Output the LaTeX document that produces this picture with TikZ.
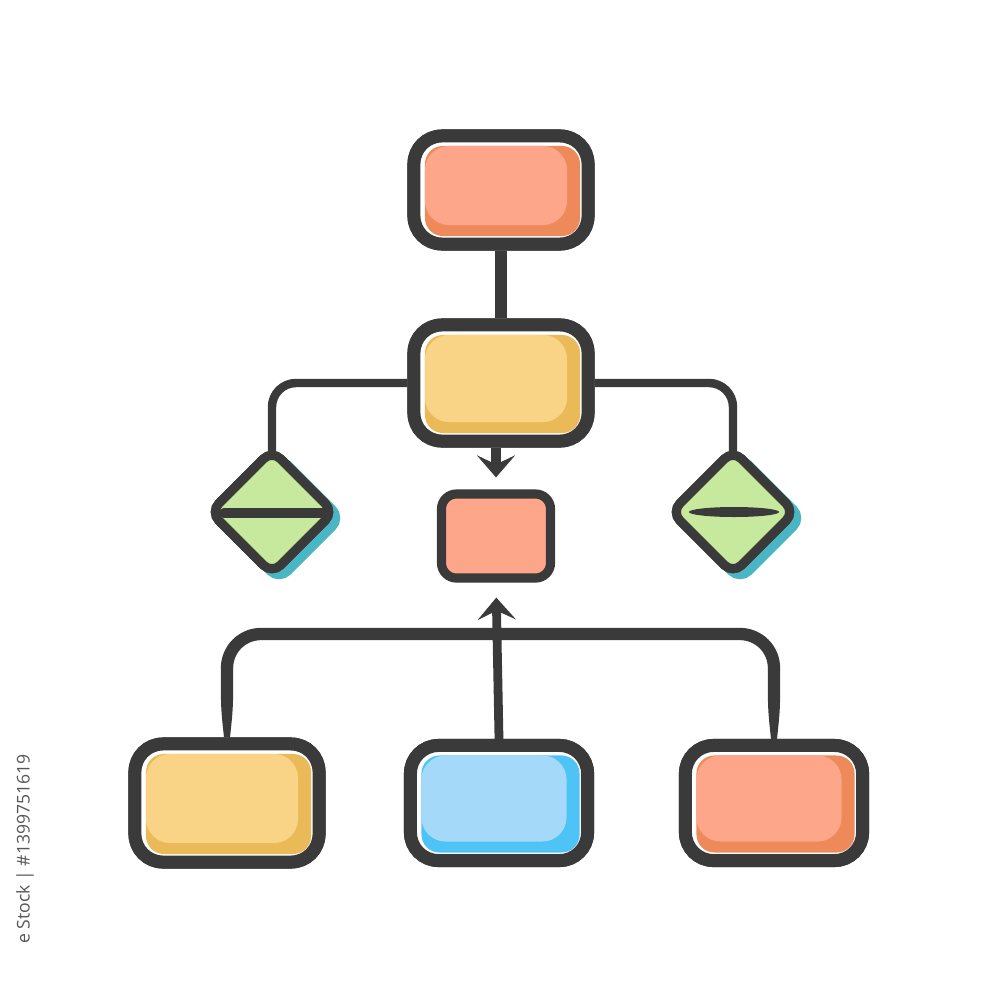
\documentclass[tikz,border=0pt]{standalone}
\usepackage{fontspec}
\newfontfamily\wmfont{Open Sans}
\usetikzlibrary{arrows.meta,calc,shapes.geometric}
\definecolor{ink}{HTML}{3A3A3A}
\definecolor{salmon}{HTML}{FDA68A}
\definecolor{salmondk}{HTML}{EE8A5A}
\definecolor{sun}{HTML}{FAD486}
\definecolor{sundk}{HTML}{EBBA58}
\definecolor{sky}{HTML}{A4D9F9}
\definecolor{skydk}{HTML}{4EC4F6}
\definecolor{leaf}{HTML}{C7E99E}
\definecolor{teal}{HTML}{4AB6C4}
\tikzset{
  card/.style 2 args={rectangle, draw=ink, line width=3.7pt, rounded corners=0.28cm,
    fill=white, inner sep=0pt,
    path picture={
      \fill[#2, rounded corners=0.18cm]
        ($(path picture bounding box.north west)+(0.11cm,-0.10cm)$) rectangle
        ($(path picture bounding box.south east)+(-0.08cm,0.08cm)$);
      \fill[#1, rounded corners=0.24cm]
        ($(path picture bounding box.north west)+(0.11cm,-0.10cm)$) rectangle
        ($(path picture bounding box.south east)+(-0.21cm,0.19cm)$);
    }},
  flatcard/.style={rectangle, draw=ink, line width=2.6pt, rounded corners=0.15cm,
    fill=salmon, inner sep=0pt},
  dia/.style={diamond, aspect=1, draw=ink, line width=2.6pt, rounded corners=0.12cm,
    fill=leaf, inner sep=0pt, minimum width=1.27cm, minimum height=1.27cm},
  diashadow/.style={diamond, aspect=1, draw=teal, line width=2.6pt, rounded corners=0.12cm,
    fill=teal, inner sep=0pt, minimum width=1.27cm, minimum height=1.27cm},
  branch/.style={draw=ink, line width=2.4pt, rounded corners=0.24cm},
  trunk/.style={draw=ink, line width=3.6pt},
  bar/.style={draw=ink, line width=3.5pt, rounded corners=0.34cm},
  tip/.style={-{Stealth[length=0.22cm,width=0.38cm,inset=0.09cm]}},
}
\begin{document}
\begin{tikzpicture}[x=0.01cm,y=-0.01cm]
\useasboundingbox (0,0) rectangle (1000,1000);
\fill[white] (0,0) rectangle (1000,1000);

% diamond shadows
\node[diashadow] (lsh) at (279,518) {};
\node[diashadow] (rsh) at (740,518) {};

% nodes
\node[card={salmon}{salmondk}, minimum width=1.74cm, minimum height=1.08cm] (top) at (501,190) {};
\node[card={sun}{sundk}, minimum width=1.74cm, minimum height=1.16cm] (mid) at (501,383) {};
\node[dia] (ldia) at (272,512) {};
\node[dia] (rdia) at (733,512) {};
\node[flatcard, minimum width=1.09cm, minimum height=0.84cm] (small) at (496,536) {};
\node[card={sun}{sundk}, minimum width=1.84cm, minimum height=1.18cm] (byel) at (227,803) {};
\node[card={sky}{skydk}, minimum width=1.77cm, minimum height=1.15cm] (bblue) at (499,803) {};
\node[card={salmon}{salmondk}, minimum width=1.77cm, minimum height=1.15cm] (bred) at (774,803) {};
\coordinate (barmid) at (500,634);
\coordinate (lt) at ($(byel.north)+(0,-70)$);
\coordinate (rt) at ($(bred.north)+(0,-70)$);

% lines
\draw[trunk] (top.south) -- (mid.north);
\draw[branch] (mid.west) -| (ldia.center);
\draw[branch] (mid.east) -| (rdia.center);
\draw[ink, line width=2.6pt, tip, shorten >=0.12cm] (small.north |- mid.south) -- (small.north);
\draw[bar] ($(lt)+(0,1)$) |- (barmid) -| ($(rt)+(0,1)$);
\fill[ink] ($(lt)+(-6.2,0)$) -- ($(lt)+(6.2,0)$) .. controls ($(lt)+(6.2,40)$) .. ($(byel.north)+(3,0)$) -- ($(byel.north)+(-3,0)$) .. controls ($(lt)+(-6.2,40)$) .. cycle;
\fill[ink] ($(rt)+(-6.2,0)$) -- ($(rt)+(6.2,0)$) .. controls ($(rt)+(6.2,40)$) .. ($(bred.north)+(3,0)$) -- ($(bred.north)+(-3,0)$) .. controls ($(rt)+(-6.2,40)$) .. cycle;
\draw[ink, line width=2.5pt, tip, shorten >=0.15cm] (bblue.north) -- (small.south);

% redraw boxes on top of line ends
\node[card={salmon}{salmondk}, minimum width=1.74cm, minimum height=1.08cm] at (top) {};
\node[card={sun}{sundk}, minimum width=1.74cm, minimum height=1.16cm] at (mid) {};
\node[dia] at (ldia) {};
\node[dia] at (rdia) {};
\node[card={sun}{sundk}, minimum width=1.84cm, minimum height=1.18cm] at (byel) {};
\node[card={sky}{skydk}, minimum width=1.77cm, minimum height=1.15cm] at (bblue) {};
\node[card={salmon}{salmondk}, minimum width=1.77cm, minimum height=1.15cm] at (bred) {};

% diamond bars
\draw[ink, line width=2.9pt, line cap=round] ($(ldia.west)+(0.2cm,-0.01cm)$) -- ($(ldia.east)+(-0.12cm,-0.01cm)$);
\fill[ink] ($(rdia.center)+(0.01cm,0cm)$) ellipse [x radius=0.45cm, y radius=0.05cm];

% watermark id
\node[rotate=90, text=ink!85, font=\wmfont\fontsize{5}{6}\selectfont, inner sep=0pt] (wm) at (25,849) {e Stock | \#1399751619};
\end{tikzpicture}
\end{document}
